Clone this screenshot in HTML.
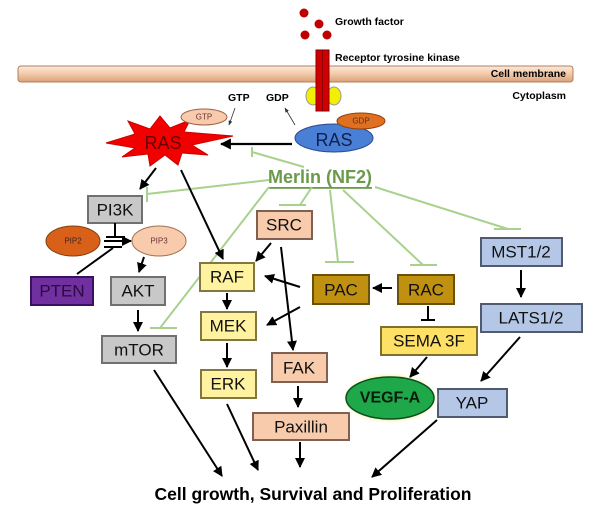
<!DOCTYPE html>
<html><head><meta charset="utf-8"><style>
body{margin:0;background:#fff}
svg{display:block;font-family:"Liberation Sans",Arial,sans-serif}
.b{text-anchor:middle;dominant-baseline:central}
.l{font-size:10.5px;font-weight:bold}
</style></head><body>
<svg width="600" height="514" viewBox="0 0 600 514" xmlns="http://www.w3.org/2000/svg">
<defs>
<marker id="a" viewBox="0 0 10 10" refX="9" refY="5" markerWidth="5" markerHeight="5" orient="auto"><path d="M0,0L10,5L0,10z" fill="#000"/></marker>
<marker id="as" viewBox="0 0 10 10" refX="9" refY="5" markerWidth="6" markerHeight="6" orient="auto"><path d="M0,1L10,5L0,9z" fill="#333"/></marker>
<linearGradient id="mem" x1="0" y1="0" x2="0" y2="1"><stop offset="0" stop-color="#fde9d9"/><stop offset=".5" stop-color="#f2c9a8"/><stop offset="1" stop-color="#d9a27a"/></linearGradient>
<radialGradient id="glow"><stop offset=".75" stop-color="#f5f08a"/><stop offset="1" stop-color="#fff" stop-opacity="0"/></radialGradient>
</defs>
<rect x="18" y="66" width="555" height="16" rx="3" fill="url(#mem)" stroke="#b08060"/>
<text x="566" y="77" class="l" text-anchor="end">Cell membrane</text>
<text x="566" y="99" class="l" text-anchor="end">Cytoplasm</text>
<circle cx="304" cy="13" r="4.5" fill="#c00000"/><circle cx="319" cy="24" r="4.5" fill="#c00000"/>
<circle cx="305" cy="35" r="4.5" fill="#c00000"/><circle cx="327" cy="35" r="4.5" fill="#c00000"/>
<text x="335" y="25" class="l">Growth factor</text>
<text x="335" y="61" class="l">Receptor tyrosine kinase</text>
<ellipse cx="313" cy="96" rx="7" ry="9" fill="#f0f000" stroke="#999"/>
<ellipse cx="334" cy="96" rx="7" ry="9" fill="#f0f000" stroke="#999"/>
<rect x="316" y="50" width="13" height="61" fill="#d00000" stroke="#800"/>
<line x1="322.5" y1="50" x2="322.5" y2="111" stroke="#800"/>
<text x="228" y="101" class="l">GTP</text><text x="266" y="101" class="l">GDP</text>
<line x1="235" y1="108" x2="229" y2="125" stroke="#333" stroke-width=".8" marker-end="url(#as)"/>
<line x1="295" y1="125" x2="285" y2="108" stroke="#333" stroke-width=".8" marker-end="url(#as)"/>
<polygon points="106,143 135,134 128,121 150,129 160,116 170,128 190,120 184,132 233,136 192,145 208,155 182,153 178,165 165,155 150,166 148,154 122,157 135,148" fill="#f20000" stroke="#c00"/>
<text x="163" y="143" class="b" style="font-size:18px" fill="#600">RAS</text>
<ellipse cx="204" cy="117" rx="23" ry="8" fill="#f8cbad" stroke="#a06040"/>
<text x="204" y="117" class="b" style="font-size:8px" fill="#633">GTP</text>
<ellipse cx="334" cy="138" rx="39" ry="14" fill="#4a7fd6" stroke="#2a4a90"/>
<ellipse cx="361" cy="121" rx="24" ry="8" fill="#e07020" stroke="#904010"/>
<text x="361" y="121" class="b" style="font-size:8px" fill="#532">GDP</text>
<text x="334" y="140" class="b" style="font-size:18px" fill="#102050">RAS</text>
<line x1="292" y1="144" x2="221" y2="144" stroke="#000" stroke-width="2.2" marker-end="url(#a)"/>
<text x="320" y="177" class="b" style="font-size:18px;font-weight:bold" fill="#6a9a4a" text-decoration="underline">Merlin (NF2)</text>
<g stroke="#a9d18e" stroke-width="2" fill="none">
<path d="M304,167L252,152M252,147v10"/>
<path d="M269,180L147,194M147,187v15"/>
<path d="M269,187L160,328M150,328h27"/>
<path d="M312,187L300,205M279,205h27"/>
<path d="M330,190L338,262M325,262h29"/>
<path d="M343,190L423,265M410,265h27"/>
<path d="M375,187L508,229M494,229h27"/>
</g>
<g stroke-width="2">
<rect x="88" y="196" width="54" height="27" fill="#c8c8c8" stroke="#707070"/>
<rect x="31" y="277" width="62" height="28" fill="#7030a0" stroke="#3a1060"/>
<rect x="111" y="277" width="54" height="28" fill="#c8c8c8" stroke="#707070"/>
<rect x="102" y="336" width="74" height="27" fill="#c8c8c8" stroke="#707070"/>
<rect x="257" y="211" width="55" height="28" fill="#f8cbad" stroke="#806050"/>
<rect x="200" y="263" width="54" height="28" fill="#fff2a0" stroke="#807840"/>
<rect x="201" y="312" width="55" height="28" fill="#fff2a0" stroke="#807840"/>
<rect x="201" y="370" width="55" height="28" fill="#fff2a0" stroke="#807840"/>
<rect x="313" y="275" width="56" height="29" fill="#c09010" stroke="#6a5008"/>
<rect x="398" y="275" width="56" height="29" fill="#c09010" stroke="#6a5008"/>
<rect x="381" y="327" width="96" height="28" fill="#ffe066" stroke="#807030"/>
<rect x="481" y="238" width="81" height="28" fill="#b4c7e7" stroke="#505a70"/>
<rect x="481" y="304" width="101" height="28" fill="#b4c7e7" stroke="#505a70"/>
<rect x="272" y="353" width="55" height="29" fill="#f8cbad" stroke="#806050"/>
<rect x="253" y="413" width="96" height="27" fill="#f8cbad" stroke="#806050"/>
<rect x="438" y="389" width="69" height="28" fill="#b4c7e7" stroke="#505a70"/>
</g>
<ellipse cx="73" cy="241" rx="27" ry="15" fill="#d86018" stroke="#804010"/>
<ellipse cx="159" cy="241" rx="27" ry="15" fill="#f8cbad" stroke="#a07050"/>
<text x="73" y="241" class="b" style="font-size:8px" fill="#422">PIP2</text>
<text x="159" y="241" class="b" style="font-size:8px" fill="#633">PIP3</text>
<ellipse cx="390" cy="398" rx="50" ry="27" fill="url(#glow)"/>
<ellipse cx="390" cy="398" rx="44" ry="21" fill="#1ea84a" stroke="#0a5020" stroke-width="1.5"/>
<text x="390" y="398" class="b" style="font-size:16px;font-weight:bold" fill="#0a1a0a">VEGF-A</text>
<g class="b" fill="#111" style="font-size:17px">
<text x="115" y="210">PI3K</text>
<text x="62" y="291" fill="#2a0a40">PTEN</text>
<text x="138" y="291">AKT</text>
<text x="139" y="350">mTOR</text>
<text x="284" y="225">SRC</text>
<text x="227" y="277">RAF</text>
<text x="228" y="326">MEK</text>
<text x="228" y="384">ERK</text>
<text x="341" y="290">PAC</text>
<text x="426" y="290">RAC</text>
<text x="429" y="341">SEMA 3F</text>
<text x="521" y="252">MST1/2</text>
<text x="531" y="318">LATS1/2</text>
<text x="299" y="368">FAK</text>
<text x="301" y="427">Paxillin</text>
<text x="472" y="403">YAP</text>
</g>
<g stroke="#000" stroke-width="2" fill="none">
<line x1="156" y1="168" x2="140" y2="189" marker-end="url(#a)"/>
<line x1="181" y1="170" x2="223" y2="259" marker-end="url(#a)"/>
<line x1="104" y1="241" x2="131" y2="241" marker-end="url(#a)"/>
<path d="M115,223v14M106,237h19M104,247h18"/>
<line x1="77" y1="274" x2="113" y2="248"/>
<line x1="144" y1="257" x2="139" y2="272" marker-end="url(#a)"/>
<line x1="138" y1="310" x2="138" y2="331" marker-end="url(#a)"/>
<line x1="271" y1="243" x2="256" y2="261" marker-end="url(#a)"/>
<line x1="281" y1="247" x2="293" y2="350" marker-end="url(#a)"/>
<line x1="300" y1="287" x2="265" y2="276" marker-end="url(#a)"/>
<line x1="300" y1="307" x2="267" y2="325" marker-end="url(#a)"/>
<line x1="227" y1="293" x2="227" y2="309" marker-end="url(#a)"/>
<line x1="227" y1="343" x2="227" y2="367" marker-end="url(#a)"/>
<line x1="392" y1="288" x2="373" y2="288" marker-end="url(#a)"/>
<path d="M428,306v14M421,320h14"/>
<line x1="521" y1="270" x2="521" y2="297" marker-end="url(#a)"/>
<line x1="298" y1="386" x2="298" y2="407" marker-end="url(#a)"/>
<line x1="427" y1="357" x2="410" y2="377" marker-end="url(#a)"/>
<line x1="520" y1="337" x2="481" y2="381" marker-end="url(#a)"/>
<line x1="154" y1="370" x2="222" y2="476" marker-end="url(#a)"/>
<line x1="227" y1="404" x2="258" y2="470" marker-end="url(#a)"/>
<line x1="300" y1="442" x2="300" y2="467" marker-end="url(#a)"/>
<line x1="437" y1="420" x2="372" y2="477" marker-end="url(#a)"/>
</g>
<text x="313" y="494" class="b" style="font-size:17.5px;font-weight:bold">Cell growth, Survival and Proliferation</text>
</svg>
</body></html>
